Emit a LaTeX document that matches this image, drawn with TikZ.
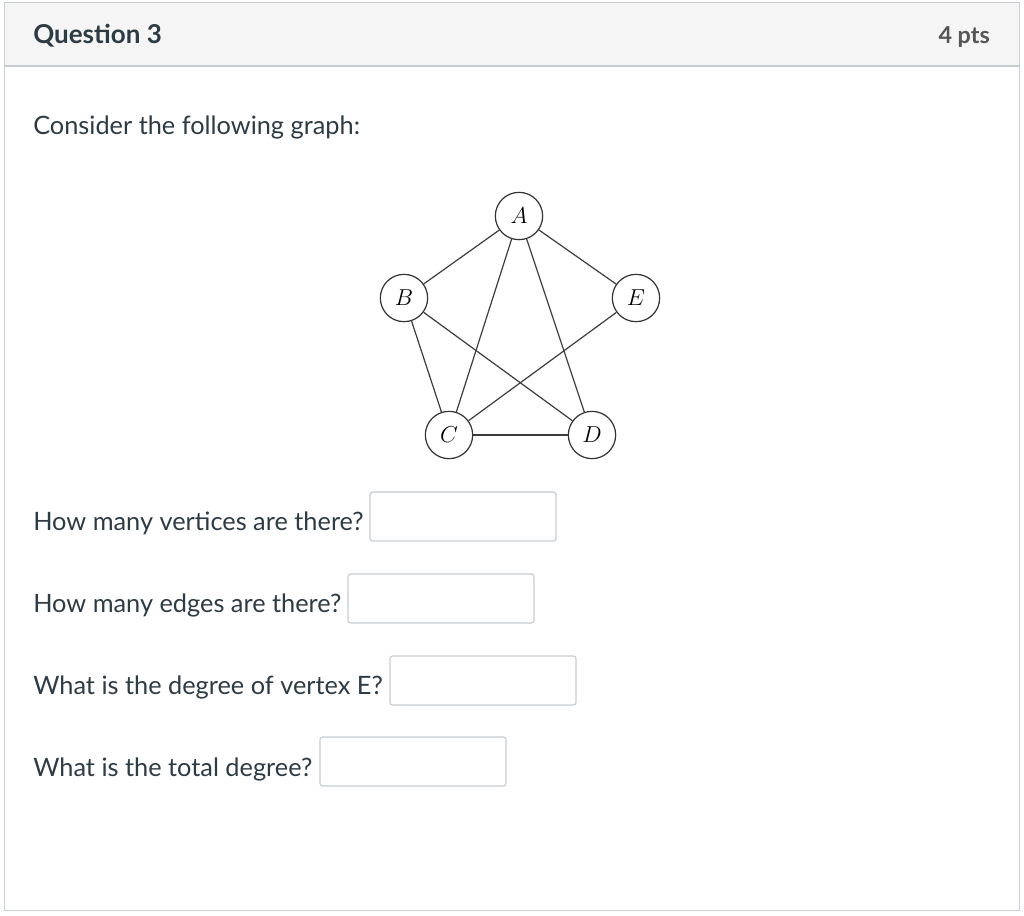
\documentclass[tikz,border=0pt]{standalone}
\usepackage{fontspec}
\setmainfont{Lato}
\usetikzlibrary{positioning}

\begin{document}
\begin{tikzpicture}[x=0.75pt,y=0.75pt,yscale=-1,xscale=1,
  vertex/.style={circle,draw={rgb, 255:red, 51; green, 51; blue, 51 },line width=0.9pt,fill=white,minimum size=35.5pt,inner sep=0pt,font=\fontsize{16}{19}\selectfont},
  edge/.style={draw={rgb, 255:red, 60; green, 60; blue, 60 },line width=0.9pt},
  qtext/.style={anchor=base west,inner sep=0pt,text={rgb, 255:red, 45; green, 59; blue, 69 },font=\fontsize{19}{23}\selectfont},
  ansbox/.style={draw={rgb, 255:red, 199; green, 205; blue, 209 },line width=0.9pt,fill=white,rounded corners=2pt}]
\path (0,0) rectangle (1024,915); %diagram size

%Shape: Frame
\draw [color={rgb, 255:red, 199; green, 205; blue, 209 } ,line width=1.1pt] (4.5,2.5) rectangle (1019.5,910.5) ;
%Shape: Header
\draw [color={rgb, 255:red, 199; green, 205; blue, 209 } ,fill={rgb, 255:red, 245; green, 245; blue, 245 } ,line width=1.1pt] (4.5,2.5) rectangle (1019.5,66) ;

% Text Node
\node [qtext,font=\bfseries\fontsize{19.5}{23}\selectfont] (title) at (33,43) {Question 3};
% Text Node
\node [qtext,anchor=base east,font=\bfseries\fontsize{17.5}{21}\selectfont,text={rgb, 255:red, 85; green, 85; blue, 85 }] (pts) at (990,43) {4 pts};
% Text Node
\node [qtext] (intro) at (33,134) {Consider the following graph:};

%Shape: Vertices
\node [vertex] (A) at (519,216) {$A$};
\node [vertex] (B) at (404,298) {$B$};
\node [vertex] (E) at (636,298) {$E$};
\node [vertex] (C) at (449,435) {$C$};
\node [vertex] (D) at (592,435) {$D$};

%Straight Lines
\draw [edge] (A) -- (B) ;
\draw [edge] (A) -- (E) ;
\draw [edge] (A) -- (C) ;
\draw [edge] (A) -- (D) ;
\draw [edge] (B) -- (C) ;
\draw [edge] (B) -- (D) ;
\draw [edge] (E) -- (C) ;
\draw [edge] (C) -- (D) ;

% Text Node
\node [qtext] (q1) at (33,530) {How many vertices are there?};
\draw [ansbox] (370,492) rectangle (556,541) ;
% Text Node
\node [qtext] (q2) at (33,612) {How many edges are there?};
\draw [ansbox] (348,574) rectangle (534,623) ;
% Text Node
\node [qtext] (q3) at (33,694) {What is the degree of vertex E?};
\draw [ansbox] (390,656) rectangle (576,705) ;
% Text Node
\node [qtext] (q4) at (33,776) {What is the total degree?};
\draw [ansbox] (320,737) rectangle (506,786) ;

\end{tikzpicture}
\end{document}
